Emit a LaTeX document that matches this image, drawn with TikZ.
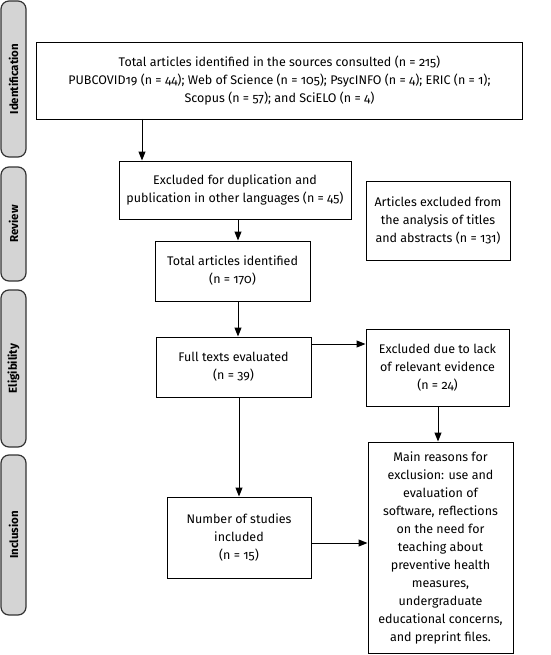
\documentclass[tikz,border=0pt]{standalone}
\usepackage{fontspec}
\setmainfont{Fira Sans}[Numbers=OldStyle]
\usetikzlibrary{arrows.meta}
\begin{document}
\begin{tikzpicture}[x=1bp,y=-1bp,
  box/.style={draw, line width=1bp, align=center, inner sep=0pt, font=\fontsize{12.5bp}{18bp}\selectfont},
  tab/.style={draw=black!80, fill=black!17, line width=1.2bp, rounded corners=8bp},
  tablabel/.style={rotate=90, font=\bfseries\fontsize{11.5bp}{14bp}\selectfont},
  arr/.style={line width=1bp, -{Triangle[length=9bp,width=7bp]}}]
\useasboundingbox (0,0) rectangle (551,655);
% tabs
\draw[tab] (1,1) rectangle (26,157);
\draw[tab] (1,167) rectangle (26,281);
\draw[tab] (1,290) rectangle (26,447);
\draw[tab] (1,455) rectangle (26,615);
\node[tablabel] (tid) at (13.5,79) {Identification};
\node[tablabel] (trv) at (13.5,224) {Review};
\node[tablabel] (tel) at (13.5,368.5) {Eligibility};
\node[tablabel] (tin) at (13.5,535) {Inclusion};
% boxes
\node[box, minimum width=485bp, minimum height=76bp] (b1) at (279.5,81)
 {Total articles identified in the sources consulted (n = 215)\\PUBCOVID19 (n = 44); Web of Science (n = 105); PsycINFO (n = 4); ERIC (n = 1);\\Scopus (n = 57); and SciELO (n = 4)};
\node[box, minimum width=232bp, minimum height=58bp] (b2) at (235,190)
 {Excluded for duplication and\\publication in other languages (n = 45)};
\node[box, minimum width=144bp, minimum height=79bp] (b2r) at (438,220.5)
 {Articles excluded from\\the analysis of titles\\and abstracts (n = 131)};
\node[box, minimum width=155bp, minimum height=60bp] (b3) at (232.5,271)
 {Total articles identified\\(n = 170)};
\node[box, minimum width=155bp, minimum height=60bp] (b4) at (233.5,367)
 {Full texts evaluated\\(n = 39)};
\node[box, minimum width=143bp, minimum height=77bp] (b5) at (437.5,367.5)
 {Excluded due to lack\\of relevant evidence\\(n = 24)};
\node[box, minimum width=145bp, minimum height=211bp] (b6) at (440.5,547.5)
 {Main reasons for\\exclusion: use and\\evaluation of\\software, reflections\\on the need for\\teaching about\\preventive health\\measures,\\undergraduate\\educational concerns,\\and preprint files.};
\node[box, minimum width=144bp, minimum height=81bp] (b7) at (239,537.5)
 {Number of studies\\included\\(n = 15)};
% connectors
\draw[arr] (142,119) -- (b2.north -| 142,0);
\draw[arr] (b2.south -| 238,0) -- (b3.north -| 238,0);
\draw[arr] (b3.south -| 238,0) -- (b4.north -| 238,0);
\draw[arr] (b4.east |- 0,344) -- (b5.west |- 0,344);
\draw[arr] (b5.south -| 438,0) -- (b6.north -| 438,0);
\draw[arr] (b4.south -| 239,0) -- (b7.north -| 239,0);
\draw[arr] (b7.east |- 0,543) -- (b6.west |- 0,543);
\end{tikzpicture}
\end{document}
